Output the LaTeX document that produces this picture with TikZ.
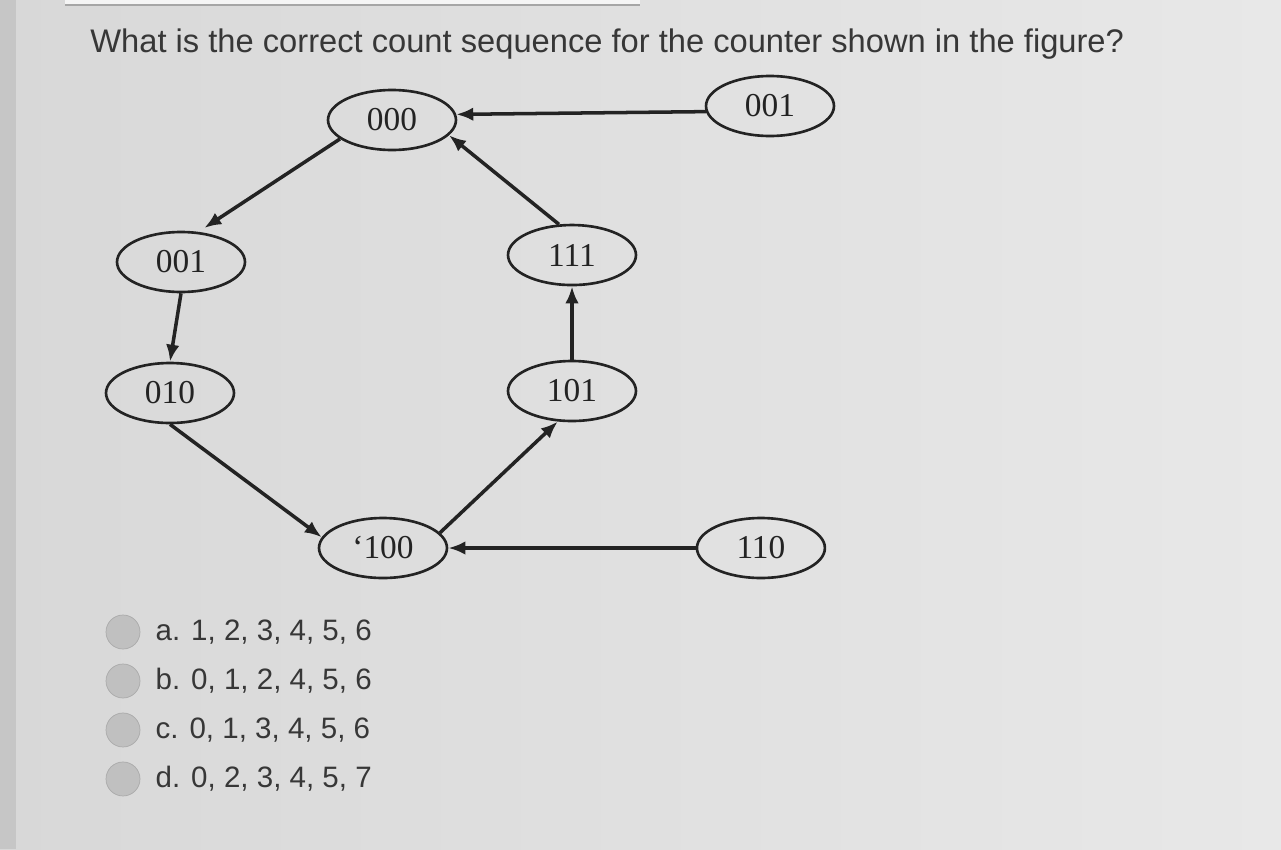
\documentclass[tikz,border=0pt]{standalone}
\usepackage{fontspec}
\setmainfont{Liberation Serif}
\setsansfont{Liberation Sans}
\usetikzlibrary{shapes,arrows.meta,positioning}
\definecolor{bgleft}{RGB}{216,216,216}
\definecolor{bgright}{RGB}{232,232,232}
\definecolor{strip}{RGB}{198,198,198}
\definecolor{ink}{RGB}{55,55,55}
\definecolor{stateink}{RGB}{35,35,35}
\definecolor{radiogray}{RGB}{192,192,192}
\definecolor{radioedge}{RGB}{170,170,170}
\tikzstyle{state} = [draw=stateink, ellipse, line width=1.5pt,
    minimum width=2.56cm, minimum height=1.2cm, inner sep=0pt,
    text=stateink, font=\rmfamily\fontsize{19}{19}\selectfont]
\tikzstyle{trans} = [->, draw=stateink, line width=2pt]
\tikzstyle{question} = [anchor=west, inner sep=0pt, text=ink,
    font=\sffamily\fontsize{18.6}{18.6}\selectfont]
\tikzstyle{radio} = [circle, fill=radiogray, draw=radioedge,
    minimum size=0.68cm, inner sep=0pt]
\tikzstyle{option} = [anchor=west, inner sep=0pt, text=ink,
    font=\sffamily\fontsize{16.8}{16.8}\selectfont]

\begin{document}
\begin{tikzpicture}[auto, x=0.02cm, y=0.02cm,
    >={Latex[length=0.34cm, width=0.27cm]}]
    \useasboundingbox (0,0) rectangle (1281,-849);
    % screen background
    \fill [left color=bgleft, right color=bgright] (0,0) rectangle (1281,-849);
    \fill [strip] (0,0) rectangle (16,-849);
    \fill [white!92!gray] (65,0) rectangle (640,-5);
    \draw [gray!70, line width=0.8pt] (65,-5) -- (640,-5);

    \node [question] (question) at (90,-44)
        {What is the correct count sequence for the counter shown in the figure?};

    % We start by placing the states
    \node [state] (s000) at (392,-120) {000};
    \node [state] (s001r) at (770,-106) {001};
    \node [state] (s001l) at (181,-262) {001};
    \node [state] (s010) at (170,-393) {010};
    \node [state] (s100) at (383,-548) {`100};
    \node [state, right of=s100, node distance=7.56cm] (s110) {110};
    \node [state] (s101) at (572,-391) {101};
    \node [state, above of=s101, node distance=2.72cm] (s111) {111};

    % Once the states are placed, connecting them is easy.
    \draw [trans] (s001r.185) -- (s000.5);
    \draw [trans, shorten >=4pt] (s000.200) -- (s001l.60);
    \draw [trans] (s001l.south) -- (s010.north);
    \draw [trans] (s010.south) -- (s100.170);
    \draw [trans] (s100.15) -- (s101.245);
    \draw [trans] (s101.north) -- (s111.south);
    \draw [trans] (s111.113) -- (s000.-15);
    \draw [trans] (s110.west) -- (s100.east);

    % answer choices
    \node [radio] (radioa) at (123,-632) {};
    \node [radio, below of=radioa, node distance=0.98cm] (radiob) {};
    \node [radio, below of=radiob, node distance=0.98cm] (radioc) {};
    \node [radio, below of=radioc, node distance=0.98cm] (radiod) {};
    \node [option, right=0.3cm of radioa] (opta) {a. 1, 2, 3, 4, 5, 6};
    \node [option, right=0.3cm of radiob] (optb) {b. 0, 1, 2, 4, 5, 6};
    \node [option, right=0.3cm of radioc] (optc) {c. 0, 1, 3, 4, 5, 6};
    \node [option, right=0.3cm of radiod] (optd) {d. 0, 2, 3, 4, 5, 7};
\end{tikzpicture}
\end{document}
